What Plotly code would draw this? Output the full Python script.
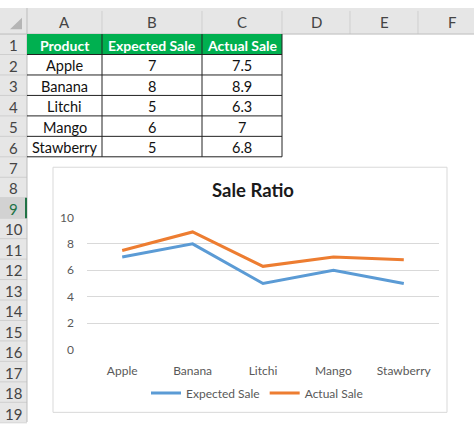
import plotly.graph_objs as go

W, H = 474, 429

products = ["Apple", "Banana", "Litchi", "Mango", "Stawberry"]
expected_sale = [7, 8, 5, 6, 5]
actual_sale = [7.5, 8.9, 6.3, 7, 6.8]
header_labels = ["Product", "Expected Sale", "Actual Sale"]
col_letters = ["A", "B", "C", "D", "E", "F"]
row_numbers = list(range(1, 20))
y_ticks = [0, 2, 4, 6, 8, 10]

font_name = "Lato, Carlito, Calibri, sans-serif"

# sheet geometry in pixels
col_edges = [27, 102, 202, 282, 350, 418, 486]
head_h = 27
row_h = 21.2


def px(x):
    return x / W


def py(y):
    return 1 - y / H


def row_top(r):
    return head_h + (r - 1) * row_h


def rect(x0, y0, x1, y1, fill=None, line=None, width=1, layer="below"):
    return dict(
        type="rect", xref="paper", yref="paper",
        x0=px(x0), x1=px(x1), y0=py(y1), y1=py(y0),
        fillcolor=fill or "rgba(0,0,0,0)",
        line=dict(color=line or "rgba(0,0,0,0)", width=width if line else 0),
        layer=layer,
    )


def seg(x0, y0, x1, y1, color, width=1, layer="below"):
    return dict(
        type="line", xref="paper", yref="paper",
        x0=px(x0), x1=px(x1), y0=py(y0), y1=py(y1),
        line=dict(color=color, width=width), layer=layer,
    )


def label(x, y, text, size=15, color="#333333", bold=False):
    if bold:
        text = f"<b>{text}</b>"
    return dict(
        xref="paper", yref="paper", x=px(x), y=py(y), text=text,
        showarrow=False, xanchor="center", yanchor="middle",
        font=dict(family=font_name, size=size, color=color),
    )


shapes = []
annotations = []

# column header strip and row header strip
shapes.append(rect(0, 0, W, head_h, fill="#e6e6e6"))
shapes.append(rect(0, 0, col_edges[0], H, fill="#e6e6e6"))
for x in col_edges[1:-1]:
    shapes.append(seg(x, 3, x, head_h, "#cfcfcf"))
for r in row_numbers:
    shapes.append(seg(0, row_top(r) + row_h, col_edges[0], row_top(r) + row_h, "#cfcfcf"))
shapes.append(seg(0, head_h, W, head_h, "#bdbdbd"))
shapes.append(seg(col_edges[0], 0, col_edges[0], H, "#bdbdbd"))
# corner triangle
shapes.append(dict(
    type="path", xref="paper", yref="paper",
    path=f"M {px(22)} {py(22)} L {px(22)} {py(10)} L {px(10)} {py(22)} Z",
    fillcolor="#b5b5b5", line=dict(width=0), layer="below",
))
# selected row 9
shapes.append(rect(0, row_top(9), col_edges[0], row_top(9) + row_h, fill="#d2d2d2"))
shapes.append(seg(col_edges[0] - 1, row_top(9), col_edges[0] - 1, row_top(9) + row_h, "#217346", 2))

for i, letter in enumerate(col_letters):
    annotations.append(label((col_edges[i] + col_edges[i + 1]) / 2, head_h / 2 + 1, letter, color="#444444"))
for r in row_numbers:
    annotations.append(label(col_edges[0] / 2, row_top(r) + row_h / 2 + 1, str(r),
                             color="#217346" if r == 9 else "#444444"))

# data table A1:C6
shapes.append(rect(col_edges[0], row_top(1), col_edges[3], row_top(2), fill="#00b050"))
for i in range(3):
    x = col_edges[i + 1]
    shapes.append(seg(x, row_top(1), x, row_top(7), "#222222"))
for r in range(2, 8):
    shapes.append(seg(col_edges[0], row_top(r), col_edges[3], row_top(r), "#222222"))

for i, txt in enumerate(header_labels):
    annotations.append(label((col_edges[i] + col_edges[i + 1]) / 2, row_top(1) + row_h / 2 + 1,
                             txt, size=14, color="white", bold=True))
cells = [products, [f"{v:g}" for v in expected_sale], [f"{v:g}" for v in actual_sale]]
for i, col in enumerate(cells):
    for j, txt in enumerate(col):
        annotations.append(label((col_edges[i] + col_edges[i + 1]) / 2, row_top(j + 2) + row_h / 2 + 1,
                                 txt, size=14.5, color="#111111"))

# chart box
shapes.append(rect(53, 165, 447, 419, fill="white", line="#d9d9d9"))

fig = go.Figure()
fig.add_scatter(x=products, y=expected_sale, name="Expected Sale", mode="lines",
                line=dict(color="#5b9bd5", width=3))
fig.add_scatter(x=products, y=actual_sale, name="Actual Sale", mode="lines",
                line=dict(color="#ed7d31", width=3))

fig.update_layout(
    width=W, height=H,
    margin=dict(l=0, r=0, t=0, b=0),
    paper_bgcolor="white",
    plot_bgcolor="rgba(0,0,0,0)",
    font=dict(family=font_name, size=12, color="#595959"),
    title=dict(text="<b>Sale Ratio</b>", x=px(253), y=py(189), xanchor="center", yanchor="middle",
               xref="paper", yref="paper",
               font=dict(family=font_name, size=18.5, color="#1a1a1a")),
    xaxis=dict(domain=[px(87), px(439)], range=[-0.5, 4.5], showgrid=False, zeroline=False,
               showline=False, ticks="", ticklabelstandoff=12,
               tickfont=dict(size=12, color="#595959")),
    yaxis=dict(domain=[py(354), py(217)], range=[0, 10], tickvals=y_ticks,
               showgrid=True, gridcolor="#d9d9d9", gridwidth=1, zeroline=False,
               showline=False, ticks="", ticklabelstandoff=12,
               tickfont=dict(size=12, color="#595959")),
    legend=dict(orientation="h", x=px(257), xanchor="center", y=py(399), yanchor="middle",
                font=dict(size=12, color="#595959"), bgcolor="rgba(0,0,0,0)"),
    shapes=shapes,
    annotations=annotations,
    showlegend=True,
)

# page body has a default margin; drop it so the figure sits at the window corner
fig.write_html("out.html", config={"displayModeBar": False},
               post_script="document.body.style.margin='0';")
